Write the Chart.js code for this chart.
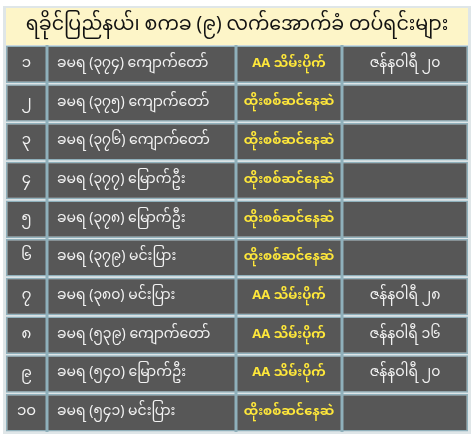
<!DOCTYPE html>
<html><head><meta charset="utf-8">
<script src="https://cdn.jsdelivr.net/npm/chart.js@4"></script>
<style>html,body{margin:0;padding:0;background:#fff}</style>
</head><body>
<canvas id="c" width="474" height="439"></canvas>
<script>
const title = "ရခိုင်ပြည်နယ်၊ စကခ (၉) လက်အောက်ခံ တပ်ရင်းများ";
const rowNumbers = ["၁","၂","၃","၄","၅","၆","၇","၈","၉","၁၀"];
const battalions = ["ခမရ (၃၇၄) ကျောက်တော်","ခမရ (၃၇၅) ကျောက်တော်","ခမရ (၃၇၆) ကျောက်တော်","ခမရ (၃၇၇) မြောက်ဦး","ခမရ (၃၇၈) မြောက်ဦး","ခမရ (၃၇၉) မင်းပြား","ခမရ (၃၈၀) မင်းပြား","ခမရ (၅၃၉) ကျောက်တော်","ခမရ (၅၄၀) မြောက်ဦး","ခမရ (၅၄၁) မင်းပြား"];
const statuses = ["AA သိမ်းပိုက်","ထိုးစစ်ဆင်နေဆဲ","ထိုးစစ်ဆင်နေဆဲ","ထိုးစစ်ဆင်နေဆဲ","ထိုးစစ်ဆင်နေဆဲ","ထိုးစစ်ဆင်နေဆဲ","AA သိမ်းပိုက်","AA သိမ်းပိုက်","AA သိမ်းပိုက်","ထိုးစစ်ဆင်နေဆဲ"];
const dates = ["ဇန်နဝါရီ ၂၀","","","","","","ဇန်နဝါရီ ၂၈","ဇန်နဝါရီ ၁၆","ဇန်နဝါရီ ၂၀",""];
const colEdges = [0,41,230,336,462];
const FONT = '"Noto Sans Myanmar","Padauk","Myanmar Text","Noto Sans",sans-serif';
const BORDER = '#8fb0bb';

const tablePlugin = {
  id:'table',
  beforeDraw(ch){
    const c=ch.ctx; c.save(); c.fillStyle='#fff'; c.fillRect(0,0,ch.width,ch.height);
    const a=ch.chartArea;
    c.fillStyle='#dfe6e8'; c.fillRect(a.left-3,6,a.right-a.left+6,a.bottom-4);
    c.fillStyle='#fdf5c8'; c.fillRect(a.left,8,a.right-a.left,a.top-8);
    c.fillStyle='#111'; c.font='19px '+FONT; c.textAlign='center'; c.textBaseline='middle';
    c.fillText(title,(a.left+a.right)/2,(8+a.top)/2+1);
    c.restore();
  },
  afterDatasetsDraw(ch){
    const c=ch.ctx, x=ch.scales.x, y=ch.scales.y, a=ch.chartArea;
    c.save();
    c.strokeStyle=BORDER; c.lineWidth=3;
    colEdges.slice(1,-1).forEach(e=>{const px=x.getPixelForValue(e);c.beginPath();c.moveTo(px,a.top);c.lineTo(px,a.bottom);c.stroke();});
    c.textBaseline='middle';
    rowNumbers.forEach((r,i)=>{
      const py=y.getPixelForValue(i)+1;
      const cx=k=>(x.getPixelForValue(colEdges[k])+x.getPixelForValue(colEdges[k+1]))/2;
      c.fillStyle='#f2f2f2'; c.font='15px '+FONT; c.textAlign='center'; c.fillText(r,cx(0),py);
      c.font='14px '+FONT; c.textAlign='left'; c.fillText(battalions[i],x.getPixelForValue(colEdges[1])+10,py);
      c.textAlign='center'; c.fillText(dates[i],cx(3),py);
      c.fillStyle='#ffe83a'; c.font='bold 13px '+FONT; c.fillText(statuses[i],cx(2),py);
    });
    c.restore();
  }
};

new Chart(document.getElementById('c'),{
  type:'bar',
  data:{labels:rowNumbers,datasets:[{data:rowNumbers.map(()=>[colEdges[0],colEdges[colEdges.length-1]]),
    backgroundColor:'#575757',borderColor:BORDER,borderWidth:1.5,borderSkipped:false,barPercentage:0.97,categoryPercentage:1}]},
  options:{indexAxis:'y',responsive:false,animation:false,devicePixelRatio:1,
    layout:{padding:{left:6,right:6,top:45,bottom:7}},
    plugins:{legend:{display:false},tooltip:{enabled:false},title:{display:false}},
    scales:{x:{display:false,min:colEdges[0],max:colEdges[colEdges.length-1]},y:{display:false}}},
  plugins:[tablePlugin]
});
</script>
</body></html>
